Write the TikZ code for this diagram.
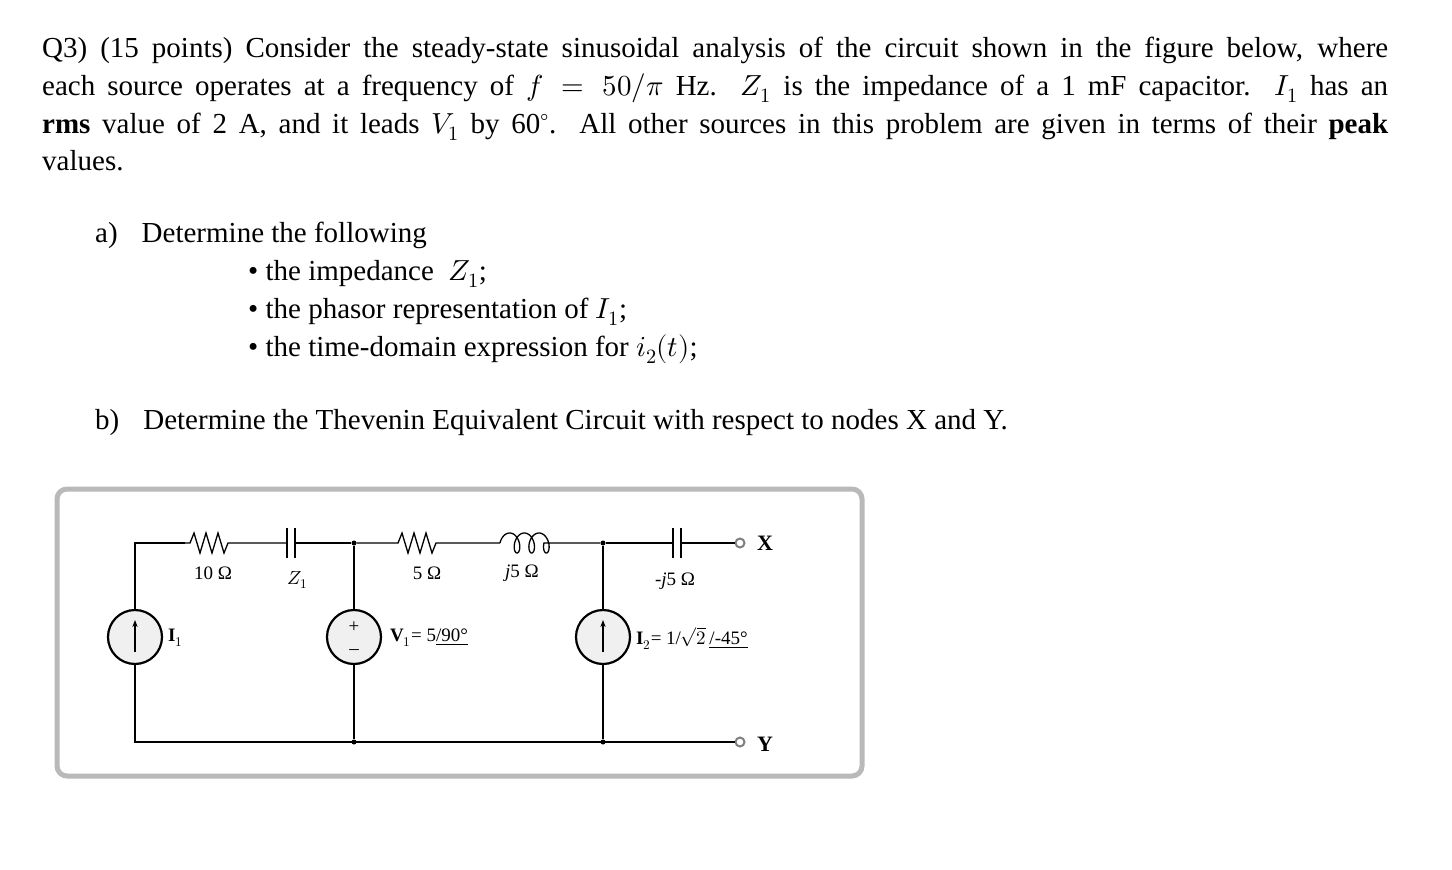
\documentclass[tikz,border=0pt]{standalone}
\usepackage{unicode-math}
\setmainfont{Liberation Serif}
\setmathfont{Latin Modern Math}
\usetikzlibrary{arrows.meta,shadows}
\begin{document}
\begin{tikzpicture}[x=1pt,y=-1pt,
  txt/.style={anchor=base west,inner sep=0pt,font=\fontsize{29}{36}\selectfont},
  lab/.style={inner sep=0pt,font=\fontsize{19}{22}\selectfont},
  wire/.style={line width=1.3pt},
  src/.style={circle,draw,line width=2.2pt,fill=gray!12,minimum size=54pt,inner sep=0pt},
  dotn/.style={circle,fill,inner sep=0pt,minimum size=5pt},
  term/.style={circle,draw=gray,line width=2pt,fill=white,inner sep=0pt,minimum size=9pt}]
\useasboundingbox (0,0) rectangle (1452,870);
% text
\node[txt] (l1) at (42,57) {\hbox to 1346pt{Q3) (15 points) Consider the steady-state sinusoidal analysis of the circuit shown in the figure below, where}};
\node[txt] (l2) at (42,95) {\hbox to 1346pt{each source operates at a frequency of $f=50/\pi$ Hz. $Z_1$ is the impedance of a 1 mF capacitor. $I_1$ has an}};
\node[txt] (l3) at (42,133) {\hbox to 1346pt{\textbf{rms} value of 2 A, and it leads $V_1$ by 60$^{\circ}$. All other sources in this problem are given in terms of their \textbf{peak}}};
\node[txt] (l4) at (42,170) {values.};
\node[txt] (a) at (95,242) {a)\hspace{24pt}Determine the following};
\node[txt] (a1) at (248,280) {\textbullet\ the impedance \ $Z_1$;};
\node[txt] (a2) at (248,318) {\textbullet\ the phasor representation of $I_1$;};
\node[txt] (a3) at (248,356) {\textbullet\ the time-domain expression for $i_2(t)$;};
\node[txt] (b) at (95,429) {b)\hspace{24pt}Determine the Thevenin Equivalent Circuit with respect to nodes X and Y.};
% frame
\draw[draw=gray!55,line width=5pt,rounded corners=10pt,fill=white,drop shadow={shadow xshift=1pt,shadow yshift=-2pt,fill=gray!40}] (57,489) rectangle (862,776);
% nodes
\node[src] (s1) at (135,637) {};
\node[src] (s2) at (354,637) {};
\node[src] (s3) at (603,637) {};
\draw[-{Stealth[length=7pt]},line width=1.3pt] (135,652) -- (135,620);
\draw[-{Stealth[length=7pt]},line width=1.3pt] (603,652) -- (603,620);
\node[lab] at (354,627) {+};
\node[lab] at (354,652) {--};
\coordinate (tl) at (135,543);
\coordinate (bl) at (135,742);
\node[dotn] (n1) at (354,543) {};
\node[dotn] (n2) at (603,543) {};
\node[dotn] (m1) at (354,742) {};
\node[dotn] (m2) at (603,742) {};
\node[term] (X) at (740,543) {};
\node[term] (Y) at (740,742) {};
% wires
\draw[wire] (s1) -- (tl) -- (185,543);
\draw[wire] (s1) -- (bl) -- (Y);
\draw[wire] (n1) -- (s2); \draw[wire] (s2) -- (m1);
\draw[wire] (n2) -- (s3); \draw[wire] (s3) -- (m2);
% 10 ohm resistor
\draw[wire] (185,543) -- (190,543) -- (194,533) -- (200,553) -- (206,533) -- (212,553) -- (218,533) -- (224,553) -- (228,543) -- (287,543);
% Z1 capacitor
\draw[wire] (287,528) -- (287,558); \draw[wire] (295,528) -- (295,558);
\draw[wire] (295,543) -- (n1);
% 5 ohm
\draw[wire] (n1) -- (398,543) -- (402,533) -- (408,553) -- (414,533) -- (420,553) -- (426,533) -- (432,553) -- (436,543) -- (500,543);
% inductor
\draw[wire] plot[domain=0:1080,samples=150,smooth] ({500+0.04074*\x+6*(1-cos(\x))},{543-10*sin(\x)}) -- (n2);
% -j5 capacitor
\draw[wire] (n2) -- (673,543); \draw[wire] (673,528) -- (673,558); \draw[wire] (681,528) -- (681,558);
\draw[wire] (681,543) -- (X);
% labels
\node[lab] (t1) at (213,573) {10 Ω};
\node[lab] (t2) at (298,580) {$Z_1$};
\node[lab] (t3) at (427,573) {5 Ω};
\node[lab] (t4) at (522,573) {\textit{j}5 Ω};
\node[lab] (t5) at (675,581) {-\textit{j}5 Ω};
\node[lab,anchor=west] (t6) at (168,638) {\textbf{I}$_1$};
\node[lab,anchor=west] (t7) at (390,638) {\textbf{V}$_1$= 5\underline{/90°}};
\node[lab,anchor=west] (t8) at (636,638) {\textbf{I}$_2$= 1/$\sqrt{2}$\,\underline{/-45°}};
\node[lab,anchor=west,font=\fontsize{22}{24}\selectfont\bfseries] (tx) at (757,543) {X};
\node[lab,anchor=west,font=\fontsize{22}{24}\selectfont\bfseries] (ty) at (757,744) {Y};
\end{tikzpicture}
\end{document}
